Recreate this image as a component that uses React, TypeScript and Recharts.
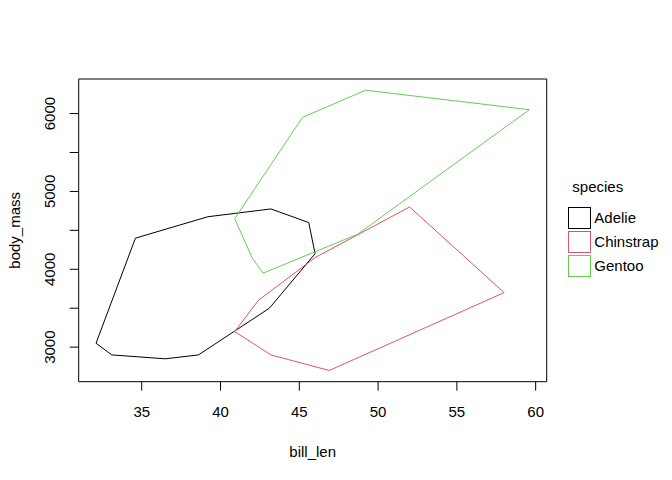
import React from "react";
import { ScatterChart, Scatter, XAxis, YAxis, ReferenceArea, Legend } from "recharts";

// convex hull vertices (closed) per species
const adelieBill = [32.1, 33.1, 36.5, 38.6, 43.1, 46.0, 45.6, 43.2, 39.2, 34.6, 32.1];
const adelieMass = [3050, 2900, 2850, 2900, 3500, 4200, 4600, 4775, 4675, 4400, 3050];
const chinstrapBill = [40.9, 42.4, 46.0, 52.0, 58.0, 46.9, 43.2, 40.9];
const chinstrapMass = [3200, 3600, 4150, 4800, 3700, 2700, 2900, 3200];
const gentooBill = [40.9, 42.0, 42.7, 48.7, 59.6, 49.2, 45.2, 40.9];
const gentooMass = [4650, 4150, 3950, 4450, 6050, 6300, 5950, 4650];

const species = ["Adelie", "Chinstrap", "Gentoo"];
const colors = ["#000000", "#DF536B", "#61D04F"];
const xTicks = [35, 40, 45, 50, 55, 60];
const yTicks = [3000, 3500, 4000, 4500, 5000, 5500, 6000];

const FONT = '"Liberation Sans", Arial, Helvetica, sans-serif';

const toPoints = (xs: number[], ys: number[]) => xs.map((x, i) => ({ x, y: ys[i] }));
const hulls = [
  toPoints(adelieBill, adelieMass),
  toPoints(chinstrapBill, chinstrapMass),
  toPoints(gentooBill, gentooMass),
];

const XTick = ({ x, y, payload }: any) => (
  <text x={x} y={y + 26} textAnchor="middle" fontSize={15} fontFamily={FONT} fill="#000">
    {payload.value}
  </text>
);

const YTick = ({ x, y, payload }: any) => {
  if (payload.value % 1000 !== 0) return <g />;
  const cx = x - 20;
  return (
    <text
      x={cx}
      y={y}
      transform={`rotate(-90, ${cx}, ${y})`}
      textAnchor="middle"
      dominantBaseline="central"
      fontSize={15}
      fontFamily={FONT}
      fill="#000"
    >
      {payload.value}
    </text>
  );
};

const LegendBox = () => (
  <div style={{ position: "relative", width: 110, height: 120, fontFamily: FONT, fontSize: 15, color: "#000" }}>
    <div style={{ position: "absolute", left: 12.3, top: 7.7, lineHeight: "18px" }}>species</div>
    {species.map((s, i) => (
      <React.Fragment key={s}>
        <div
          style={{
            position: "absolute",
            left: 8.3,
            top: 37.3 + i * 24,
            width: 22.7,
            height: 22,
            boxSizing: "border-box",
            border: `1px solid ${colors[i]}`,
          }}
        />
        <div style={{ position: "absolute", left: 34.3, top: 39.3 + i * 24, lineHeight: "18px" }}>{s}</div>
      </React.Fragment>
    ))}
  </div>
);

export default function App() {
  return (
    <div style={{ position: "absolute", left: 0, top: 0, width: 672, height: 480, background: "#fff" }}>
      <ScatterChart width={672} height={480} margin={{ top: 79, right: 125.3, left: 0, bottom: 0 }}>
        <XAxis
          type="number"
          dataKey="x"
          domain={[31.0, 60.7]}
          allowDataOverflow
          ticks={xTicks}
          tick={<XTick />}
          tickSize={9}
          tickMargin={0}
          tickLine={{ stroke: "#000" }}
          axisLine={false}
          height={98.3}
          label={{
            content: ({ viewBox }: any) => (
              <text
                x={viewBox.x + viewBox.width / 2}
                y={457}
                textAnchor="middle"
                fontSize={15}
                fontFamily={FONT}
                fill="#000"
              >
                bill_len
              </text>
            ),
          }}
        />
        <YAxis
          type="number"
          dataKey="y"
          domain={[2556, 6444]}
          allowDataOverflow
          ticks={yTicks}
          tick={<YTick />}
          tickSize={9}
          tickMargin={0}
          tickLine={{ stroke: "#000" }}
          axisLine={false}
          width={78.7}
          label={{
            content: ({ viewBox }: any) => {
              const cy = viewBox.y + viewBox.height / 2;
              return (
                <text
                  x={15}
                  y={cy}
                  transform={`rotate(-90, 15, ${cy})`}
                  textAnchor="middle"
                  dominantBaseline="central"
                  fontSize={15}
                  fontFamily={FONT}
                  fill="#000"
                >
                  body_mass
                </text>
              );
            },
          }}
        />
        <ReferenceArea
          x1={31.0}
          x2={60.7}
          y1={2556}
          y2={6444}
          ifOverflow="visible"
          fill="none"
          fillOpacity={0}
          stroke="#000"
          strokeWidth={1}
        />
        {hulls.map((pts, i) => (
          <Scatter
            key={species[i]}
            name={species[i]}
            data={pts}
            line={{ stroke: colors[i], strokeWidth: 1 }}
            lineType="joint"
            shape={() => <g />}
            legendType="none"
            isAnimationActive={false}
          />
        ))}
        <Legend
          layout="vertical"
          align="center"
          verticalAlign="middle"
          wrapperStyle={{ left: 560, top: 170, width: 110 }}
          content={() => <LegendBox />}
        />
      </ScatterChart>
    </div>
  );
}
